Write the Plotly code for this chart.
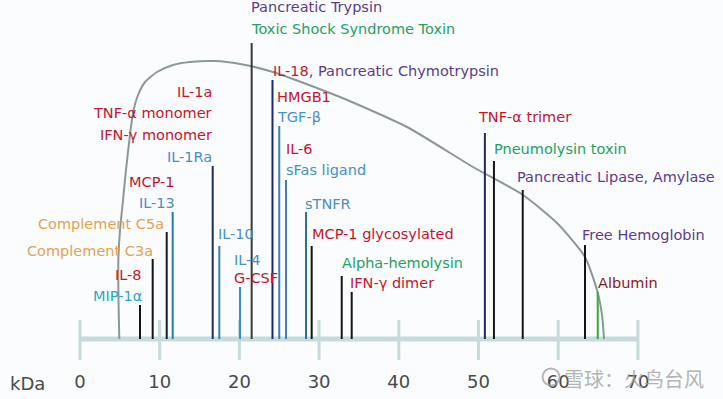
import plotly.graph_objects as go

# ---------------- data ----------------
# vertical marker lines: molecular weight (kDa), line height, colour
line_kda = [7.53, 9.12, 10.88, 11.63, 16.65, 17.48, 20.08, 21.54, 24.15, 25.0,
            25.85, 28.36, 29.07, 32.84, 34.09, 50.8, 51.94, 55.55, 63.36, 64.96]
line_top = [34, 80, 107, 127, 173, 93, 52, 296, 259, 213,
            159, 127, 93, 63, 47, 206, 178, 149, 94, 47]
line_col = ["#151515", "#151515", "#1a1a28", "#2b7c9c", "#1e2d5c", "#3a7fb8",
            "#3a8cc2", "#3a3a3a", "#1f2a62", "#3d80b8", "#3d80b8", "#2e6f96",
            "#151515", "#151515", "#151515", "#1f2a5c", "#151515", "#151515",
            "#151515", "#3aa83a"]

# sieving curve (kDa, relative height)
curve_kda = [4.93, 4.83, 4.81, 5.02, 5.40, 5.77, 6.27, 6.65, 7.28, 8.16, 9.66,
             11.67, 13.80, 16.94, 20.08, 24.22, 32.62, 41.03, 49.31, 55.58,
             59.85, 63.36, 64.87, 65.50, 65.75]
curve_h = [0, 39, 79, 109, 139, 169, 204, 226, 244, 257, 267,
           274, 277, 278, 275, 267, 242, 212, 172, 144,
           116, 82, 49, 24, 0]

RED = "#c8142c"
BLUE = "#4a8fc8"
PURPLE = "#5e3b8e"
GREEN = "#27a062"
ORANGE = "#e8a24c"
CYAN = "#2aa9c6"
MAROON = "#8e1616"

# labels: text, kDa anchor, height anchor, alignment, colour
label_text = ["IL-1a", "TNF-α monomer", "IFN-γ monomer", "IL-1Ra", "MCP-1", "IL-13",
              "Complement C5a", "Complement C3a", "IL-8", "MIP-1α",
              "IL-10", "IL-4", "G-CSF", "Pancreatic Trypsin", "Toxic Shock Syndrome Toxin",
              "<span style='color:" + RED + "'>IL-18</span>, Pancreatic Chymotrypsin",
              "HMGB1", "TGF-β", "IL-6", "sFas ligand", "sTNFR", "MCP-1 glycosylated",
              "Alpha-hemolysin", "IFN-γ dimer", "TNF-α trimer", "Pneumolysin toxin",
              "Pancreatic Lipase, Amylase", "Free Hemoglobin", "Albumin"]
label_kda = [16.69, 16.69, 16.69, 16.69, 12.05, 12.05, 10.66, 9.28, 7.90, 7.90,
             17.19, 19.20, 19.20, 21.33, 21.33, 24.09, 24.59, 24.59, 25.72, 25.72,
             28.11, 28.98, 32.75, 33.75, 49.81, 51.82, 79.8, 62.86, 64.87]
label_h = [247, 226, 204, 182, 157, 136, 115, 88, 64, 43,
           105, 79, 61, 332, 310, 268, 242, 222, 190, 169,
           135, 105, 76, 56, 222, 190, 162, 104, 56]
label_align = ["right"] * 10 + ["left"] * 16 + ["right", "left", "left"]
label_col = [RED, RED, RED, BLUE, RED, BLUE, ORANGE, ORANGE, RED, CYAN,
             BLUE, BLUE, RED, PURPLE, GREEN, PURPLE, RED, BLUE, RED, BLUE,
             BLUE, RED, GREEN, RED, RED, GREEN, PURPLE, PURPLE, MAROON]

tick_vals = [0, 10, 20, 30, 40, 50, 60, 70]
tick_text = ["0", "10", "20", "30", "40", "50", "60", "70"]
unit_label = "kDa"
watermark = "雪球：火鸟台风"

# ---------------- figure ----------------
fig = go.Figure()

AX_COL = "#c6dcdc"
# axis baseline
fig.add_trace(go.Scatter(x=[tick_vals[0], tick_vals[-1]], y=[0, 0], mode="lines",
                         line=dict(color=AX_COL, width=5), hoverinfo="skip"))
# tick marks
tx, ty = [], []
for v in tick_vals:
    tx += [v, v, None]
    ty += [19, -21, None]
fig.add_trace(go.Scatter(x=tx, y=ty, mode="lines", line=dict(color=AX_COL, width=3),
                         hoverinfo="skip"))

# curve
fig.add_trace(go.Scatter(x=curve_kda, y=curve_h, mode="lines",
                         line=dict(color="#8c9898", width=2, shape="spline", smoothing=0.6),
                         hoverinfo="skip"))

# vertical lines
for k, t, c in zip(line_kda, line_top, line_col):
    fig.add_trace(go.Scatter(x=[k, k], y=[0, t], mode="lines",
                             line=dict(color=c, width=2), hoverinfo="skip"))

# tick labels
fig.add_trace(go.Scatter(x=tick_vals, y=[-44] * len(tick_vals), mode="text",
                         text=tick_text, textposition="middle center",
                         textfont=dict(family="DejaVu Sans", size=18, color="#4a4a4a"),
                         hoverinfo="skip"))
fig.add_annotation(x=-9.0, y=-44, text=unit_label, showarrow=False, xanchor="left",
                   yanchor="middle", font=dict(family="DejaVu Sans", size=18, color="#4a4a4a"))

# molecule labels
for t, k, h, a, c in zip(label_text, label_kda, label_h, label_align, label_col):
    fig.add_annotation(x=k, y=h, text=t, showarrow=False, xanchor=a, yanchor="middle",
                       font=dict(family="DejaVu Sans", size=14.5, color=c), borderpad=0)

# watermark
fig.add_trace(go.Scatter(x=[59.1], y=[-38], mode="markers",
                         marker=dict(symbol="circle-open", size=17, color="rgba(160,160,160,0.75)",
                                     line=dict(width=2)), hoverinfo="skip"))
fig.add_annotation(x=60.5, y=-39, text=watermark, showarrow=False, xanchor="left",
                   yanchor="middle",
                   font=dict(family="Noto Sans CJK SC", size=20, color="rgba(160,160,160,0.8)"))

W, H = 723, 399
fig.update_layout(
    width=W, height=H, margin=dict(l=0, r=0, t=0, b=0),
    paper_bgcolor="#fafcfd", plot_bgcolor="#fafcfd", showlegend=False,
    xaxis=dict(range=[-80 / 7.97, (W - 80) / 7.97], visible=False, fixedrange=True),
    yaxis=dict(range=[-(H - 339), 339], visible=False, fixedrange=True),
)

# remove the default 8px page margin so the figure fills the window exactly
fig.write_html("out.html", config={"displayModeBar": False},
               post_script="document.body.style.margin='0';document.body.style.overflow='hidden';")
